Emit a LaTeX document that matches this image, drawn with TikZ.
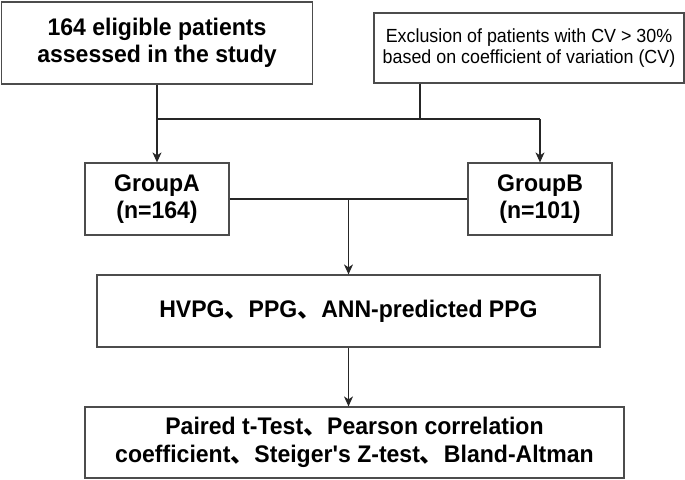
\documentclass[tikz,border=0pt]{standalone}
\usepackage{fontspec}
\setmainfont{Liberation Sans}
\newfontfamily\bignarrow[FakeStretch=0.96]{Liberation Sans}
\newfontfamily\smallnarrow[FakeStretch=0.94]{Liberation Sans}
\newfontfamily\cjk{Noto Sans CJK SC}
\usetikzlibrary{arrows.meta}
\newcommand\cjkcomma{{\cjk 、}}
\begin{document}
\begin{tikzpicture}[x=1pt,y=-1pt,
  box/.style={draw=black!70,line width=1.2pt,rectangle,inner sep=0pt,align=center},
  bigtext/.style={font=\bignarrow\fontsize{24}{27.5}\selectfont\bfseries},
  smalltext/.style={font=\smallnarrow\fontsize{19}{20.5}\selectfont},
  conn/.style={draw=black!85,line width=1.1pt},
  arr/.style={conn,-{Stealth[length=10pt,width=9pt,inset=3pt]}}]
\useasboundingbox (0,0) rectangle (685,479);
\node[box,bigtext,minimum width=311pt,minimum height=82pt] (b1) at (157,43) {164 eligible patients\\assessed in the study};
\node[box,smalltext,minimum width=310pt,minimum height=70pt] (b2) at (529,48) {Exclusion of patients with CV > 30\%\\based on coefficient of variation (CV)};
\node[box,bigtext,minimum width=144pt,minimum height=72pt] (ga) at (157,199) {GroupA\\(n=164)};
\node[box,bigtext,minimum width=144pt,minimum height=72pt] (gb) at (540,199) {GroupB\\(n=101)};
\node[box,bigtext,minimum width=503pt,minimum height=72pt] (hv) at (348.5,311) {HVPG\cjkcomma PPG\cjkcomma ANN-predicted PPG};
\node[box,bigtext,minimum width=539pt,minimum height=71pt] (bt) at (354.5,442.5) {Paired t-Test\cjkcomma Pearson correlation\\coefficient\cjkcomma Steiger\symbol{39}s Z-test\cjkcomma Bland-Altman};
\coordinate (ja) at (157,119);
\coordinate (jb) at (540,119);
\coordinate (jc) at (420,119);
\draw[arr] (b1.south) -- (ga.north);
\draw[conn] (ja) -- (jb);
\draw[conn] (b2.south -| jc) -- (jc);
\draw[arr] (jb) -- (gb.north);
\draw[conn] (ga.east) -- (gb.west);
\coordinate (m) at (hv.north |- ga.east);
\draw[arr] (m) -- (hv.north);
\draw[arr] (hv.south) -- (hv.south |- bt.north);
\end{tikzpicture}
\end{document}
